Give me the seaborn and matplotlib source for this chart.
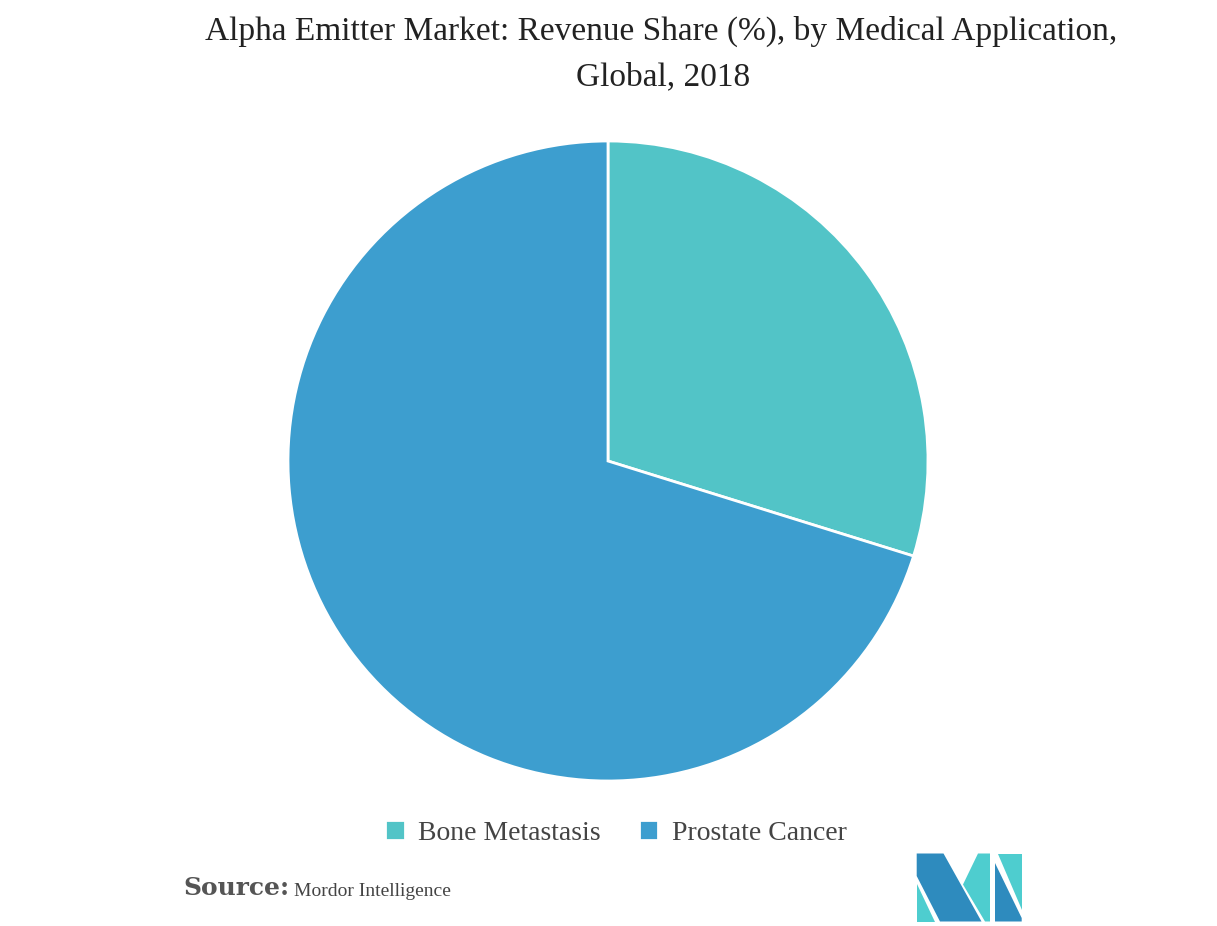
import matplotlib
matplotlib.use("Agg")
import matplotlib.pyplot as plt
import seaborn as sns
from matplotlib.patches import Polygon

sns.set_theme(style="white")
plt.rcParams['font.family'] = ['Liberation Serif', 'DejaVu Serif']

categories = ["Bone Metastasis", "Prostate Cancer"]
shares = [29.8, 70.2]
colors = sns.color_palette(["#52C4C7", "#3D9ECF"])

fig = plt.figure(figsize=(12.17, 9.26), dpi=100)
W, H = 1217, 926

def fx(x):
    return x / W

def fy(y):
    return 1 - y / H

fig.text(fx(661), fy(31), "Alpha Emitter Market: Revenue Share (%), by Medical Application,",
         ha="center", va="center", fontsize=24, color="#222222")
fig.text(fx(663), fy(77), "Global, 2018", ha="center", va="center", fontsize=24, color="#222222")

cx, cy, r = 608, 461, 320
ax = fig.add_axes([fx(cx - r), fy(cy + r), 2 * r / W, 2 * r / H])
wedges, _ = ax.pie(shares, colors=colors, startangle=90, counterclock=False,
                   wedgeprops=dict(edgecolor="white", linewidth=2))
ax.set_xlim(-1.0, 1.0)
ax.set_ylim(-1.0, 1.0)
ax.set_aspect("equal")
ax.axis("off")

leg = fig.legend(wedges, categories, loc="center", bbox_to_anchor=(fx(616), fy(833)),
                 ncol=2, frameon=False, fontsize=20, handlelength=0.7, handleheight=0.7,
                 columnspacing=1.35, handletextpad=0.5)
for t in leg.get_texts():
    t.set_color("#444444")

fig.text(fx(183), fy(888), "Source:", ha="left", va="center", fontsize=18,
         fontweight="heavy", family=["DejaVu Serif"], color="#555555")
fig.text(fx(294), fy(891), "Mordor Intelligence", ha="left", va="center", fontsize=14,
         color="#444444")

dark = "#2E8BBE"
teal = "#4ECDCF"
logo = [
    ([(916.7, 853.5), (943.5, 853.5), (981.5, 921.5), (940, 921.5), (916.7, 876)], dark),
    ([(916.7, 883.5), (916.7, 921.5), (935, 921.5)], teal),
    ([(978, 853.5), (990, 853.5), (990, 921.5), (985, 921.5), (963, 884.5)], teal),
    ([(997.5, 853.5), (1021.7, 853.5), (1021.7, 909.5)], teal),
    ([(995, 863), (1021.7, 918), (1021.7, 921.5), (995, 921.5)], dark),
]
for pts, c in logo:
    fig.patches.append(Polygon([(fx(x), fy(y)) for x, y in pts], closed=True,
                               transform=fig.transFigure, facecolor=c, edgecolor="none"))

fig.savefig("out.png", dpi=100, facecolor="white")
